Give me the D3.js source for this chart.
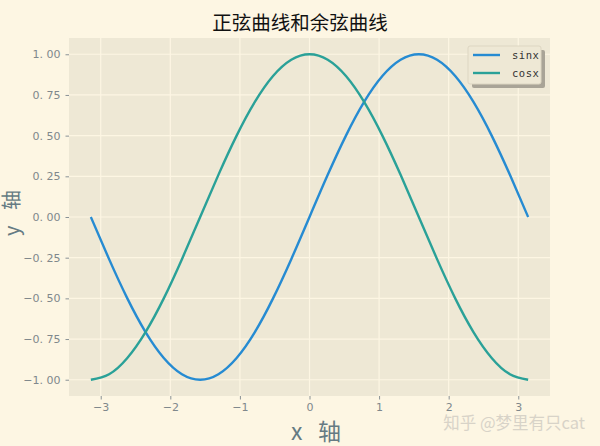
<!DOCTYPE html>
<html>
<head>
<meta charset="utf-8">
<script src="https://cdn.jsdelivr.net/npm/d3@7"></script>
<style>
  body { margin: 0; background: #fdf6e3; }
  svg { display: block; }
</style>
</head>
<body>
<div id="chart"></div>
<script>
// values
var xs = [-3.142, -2.880, -2.618, -2.356, -2.094, -1.833, -1.571, -1.309, -1.047, -0.785, -0.524, -0.262, 0,
  0.262, 0.524, 0.785, 1.047, 1.309, 1.571, 1.833, 2.094, 2.356, 2.618, 2.880, 3.142];
var sinVals = [0, -0.259, -0.5, -0.707, -0.866, -0.966, -1, -0.966, -0.866, -0.707, -0.5, -0.259, 0,
  0.259, 0.5, 0.707, 0.866, 0.966, 1, 0.966, 0.866, 0.707, 0.5, 0.259, 0];
var cosVals = [-1, -0.966, -0.866, -0.707, -0.5, -0.259, 0, 0.259, 0.5, 0.707, 0.866, 0.966, 1,
  0.966, 0.866, 0.707, 0.5, 0.259, 0, -0.259, -0.5, -0.707, -0.866, -0.966, -1];
var seriesNames = ["sinx", "cosx"];
var xTicks = [-3, -2, -1, 0, 1, 2, 3];
var yTicks = [-1, -0.75, -0.5, -0.25, 0, 0.25, 0.5, 0.75, 1];

var width = 600, height = 446;
var margin = { top: 38, right: 50, bottom: 50, left: 69 };
var colors = ["#268bd2", "#2aa198"];

var svg = d3.select( "#chart" ).append( "svg" )
  .attr( "width", width )
  .attr( "height", height );

svg.append( "rect" ).attr( "width", width ).attr( "height", height ).attr( "fill", "#fdf6e3" );

var x = d3.scaleLinear().domain( [-3.456, 3.456] ).range( [margin.left, width - margin.right] );
var y = d3.scaleLinear().domain( [-1.1, 1.1] ).range( [height - margin.bottom, margin.top] );

// axes background
svg.append( "rect" )
  .attr( "x", x.range()[0] ).attr( "y", y.range()[1] )
  .attr( "width", x.range()[1] - x.range()[0] )
  .attr( "height", y.range()[0] - y.range()[1] )
  .attr( "fill", "#eee8d5" );

// grid
svg.append( "g" ).selectAll( "line" )
  .data( xTicks ).enter().append( "line" )
  .attr( "x1", function ( d ) { return x( d ); } ).attr( "x2", function ( d ) { return x( d ); } )
  .attr( "y1", y.range()[0] ).attr( "y2", y.range()[1] )
  .attr( "stroke", "#fdf6e3" ).attr( "stroke-width", 1.2 );
svg.append( "g" ).selectAll( "line" )
  .data( yTicks ).enter().append( "line" )
  .attr( "y1", function ( d ) { return y( d ); } ).attr( "y2", function ( d ) { return y( d ); } )
  .attr( "x1", x.range()[0] ).attr( "x2", x.range()[1] )
  .attr( "stroke", "#fdf6e3" ).attr( "stroke-width", 1.2 );

// axes
var xAxis = svg.append( "g" )
  .attr( "transform", "translate(0," + y.range()[0] + ")" )
  .call( d3.axisBottom( x ).tickValues( xTicks ).tickSize( 3.5 ).tickPadding( 4 )
    .tickFormat( function ( d ) { return d3.format( "d" )( d ).replace( "-", "\u2212" ); } ) );
var yAxis = svg.append( "g" )
  .attr( "transform", "translate(" + x.range()[0] + ",0)" )
  .call( d3.axisLeft( y ).tickValues( yTicks ).tickSize( 3.5 ).tickPadding( 5 )
    .tickFormat( function ( d ) { return d3.format( ".2f" )( d ).replace( "-", "\u2212" ).replace( ".", ". " ); } ) );

[xAxis, yAxis].forEach( function ( a ) {
  a.select( ".domain" ).remove();
  a.selectAll( ".tick line" ).attr( "stroke", "#8a9296" );
  a.selectAll( ".tick text" )
    .attr( "fill", "#80888c" )
    .style( "font-family", "'DejaVu Sans', sans-serif" )
    .style( "font-size", "11px" )
    .style( "white-space", "pre" );
} );

// lines
var line = d3.line()
  .x( function ( d ) { return x( d[0] ); } )
  .y( function ( d ) { return y( d[1] ); } )
  .curve( d3.curveNatural );

[sinVals, cosVals].forEach( function ( vals, i ) {
  svg.append( "path" )
    .datum( xs.map( function ( v, j ) { return [v, vals[j]]; } ) )
    .attr( "d", line )
    .attr( "fill", "none" )
    .attr( "stroke", colors[i] )
    .attr( "stroke-width", 2.4 );
} );

// legend
var lg = svg.append( "g" ).attr( "transform", "translate(468,46)" );
lg.append( "rect" ).attr( "x", 4 ).attr( "y", 4 ).attr( "width", 73 ).attr( "height", 38 )
  .attr( "rx", 2 ).attr( "fill", "#a9a497" );
lg.append( "rect" ).attr( "width", 73 ).attr( "height", 38 )
  .attr( "rx", 2 ).attr( "fill", "#eee8d5" ).attr( "stroke", "#ddd6c2" );
seriesNames.forEach( function ( name, i ) {
  var yy = 9 + i * 18;
  lg.append( "line" ).attr( "x1", 5 ).attr( "x2", 32 ).attr( "y1", yy ).attr( "y2", yy )
    .attr( "stroke", colors[i] ).attr( "stroke-width", 2.4 );
  lg.append( "text" ).attr( "x", 44 ).attr( "y", yy + 4 ).text( name )
    .attr( "fill", "#333" )
    .style( "font-family", "'DejaVu Sans Mono', monospace" )
    .style( "font-size", "10.5px" )
    .style( "letter-spacing", "0.5px" );
} );

// title and axis labels
svg.append( "text" )
  .attr( "x", 300 ).attr( "y", 30 )
  .attr( "text-anchor", "middle" )
  .style( "font-family", "'Noto Sans CJK SC', sans-serif" )
  .style( "font-size", "19.5px" )
  .attr( "fill", "#111" )
  .text( "正弦曲线和余弦曲线" );

var xl = svg.append( "text" )
  .attr( "y", 440 )
  .style( "font-family", "'Noto Sans CJK SC', sans-serif" )
  .style( "font-size", "23px" )
  .attr( "fill", "#657b83" );
xl.append( "tspan" ).attr( "x", 291 ).text( "x" );
xl.append( "tspan" ).attr( "x", 318 ).text( "轴" );

var yl = svg.append( "text" )
  .attr( "transform", "translate(19,0) rotate(-90)" )
  .style( "font-family", "'Noto Sans CJK SC', sans-serif" )
  .style( "font-size", "20px" )
  .attr( "fill", "#657b83" );
yl.append( "tspan" ).attr( "x", -236 ).text( "y" );
yl.append( "tspan" ).attr( "x", -210 ).text( "轴" );

// watermark
svg.append( "text" )
  .attr( "x", 585 ).attr( "y", 429 )
  .attr( "text-anchor", "end" )
  .style( "font-family", "'Noto Sans CJK SC', sans-serif" )
  .style( "font-size", "16.5px" )
  .attr( "fill", "#d8d3c8" )
  .text( "知乎 @梦里有只cat" );
</script>
</body>
</html>
